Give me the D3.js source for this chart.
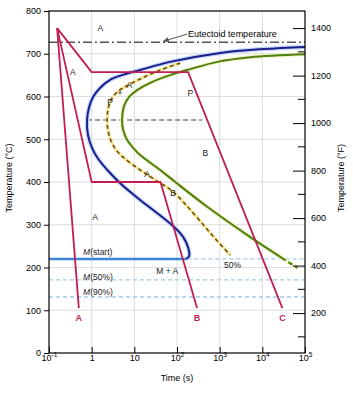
<!DOCTYPE html>
<meta charset="utf-8">
<script src="https://cdn.jsdelivr.net/npm/d3@7"></script>
<style>
body { margin: 0; background: #fff; }
text { font-family: "Liberation Sans", Arial, sans-serif; }
.tick text { font-size: 9px; }
.lbl { font-size: 8.5px; fill: #222; }
.path-lbl { font-size: 9px; fill: #c21e56; font-weight: bold; }
</style>
<div id="chart"></div>
<script>
// time in seconds, temperature in deg C
const startCurve = [[1e5,716],[10500,711],[1030,702],[69,681],[13.7,662],[5.17,650],[2.7,639],[1.57,620],
  [1.08,599],[0.87,575],[0.78,545],[0.82,510],[1.02,480],[1.34,458],[2.7,421],[5.17,393],[13.7,358],
  [81,297],[140,271],[183,246],[193,227],[164,220]];
const finishCurve = [[1e5,699],[5220,692],[880,681],[204,664],[69,650],[23.5,632],[11.6,615],[7.55,599],
  [5.77,578],[5.17,545],[5.46,522],[6.78,498],[9.4,480],[13.7,463],[40.4,428],[91,400],[512,342],
  [5220,271],[66400,199]];
const halfCurve = [[119,678],[40.4,662],[13.7,641],[5.46,620],[3.74,608],[2.85,592],[2.43,571],[2.3,545],
  [2.43,519],[2.85,496],[3.74,475],[5.46,458],[13.7,428],[34.3,402],[81,377],[880,262],[1775,229]];
const pathA = [[0.155,760],[0.5,105]];
const pathB = [[0.155,760],[1.0,400],[41,400],[295,105]];
const pathC = [[0.155,760],[1.0,657],[182,657],[29500,105]];
const eutectoidT = 727;
const bainiteLine = [[0.78,545],[390,545]];
const msStart = 220, ms50 = 171, ms90 = 131, msEndTime = 175;
const xTicks = [0.1,1,10,100,1000,10000,100000];
const xTickLabels = [["10","-1"],["1",""],["10",""],["10","2"],["10","3"],["10","4"],["10","5"]];
const yTicksC = d3.range(0,801,100);
const yTicksF = [200,400,600,800,1000,1200,1400];
const yMinorF = [100,300,500,700,900,1100,1300];
const regionLabels = [[1.6,760,"A"],[0.36,657,"A"],[1.2,318,"A"],[205,608,"P"],[460,468,"B"],
  [20,419,"A"],[81,374,"B"],[2.7,588,"P"],[4.6,607,"+"],[7.6,626,"A"],[59,192,"M + A"],[2000,206,"50%"]];
const pathLabels = [[0.5,82,"A"],[295,82,"B"],[29500,82,"C"]];
const msLabels = [[0.63,236,"(start)"],[0.63,178,"(50%)"],[0.63,143,"(90%)"]];

const W = 353, H = 393;
const x = d3.scaleLog().domain([0.1,1e5]).range([49,305]);
const y = d3.scaleLinear().domain([0,800]).range([353,11]);
const yF = d3.scaleLinear().domain([32,32+800*1.8]).range([353,11]);

const svg = d3.select("#chart").append("svg").attr("width",W).attr("height",H);

svg.append("defs").call(d => {
  d.append("clipPath").attr("id","above").append("rect")
    .attr("x",0).attr("y",0).attr("width",W).attr("height",y(msStart));
  d.append("clipPath").attr("id","below").append("rect")
    .attr("x",0).attr("y",y(msStart)).attr("width",W).attr("height",H);
  d.append("marker").attr("id","arr").attr("viewBox","0 0 10 10").attr("refX",9).attr("refY",5)
    .attr("markerWidth",6).attr("markerHeight",6).attr("orient","auto")
    .append("path").attr("d","M0,1L10,5L0,9z").attr("fill","#555");
});

// grid
const grid = svg.append("g").attr("stroke","#d4d4d4").attr("stroke-width",0.8);
grid.selectAll(".gx").data(xTicks.slice(1,-1)).join("line")
  .attr("x1",d=>x(d)).attr("x2",d=>x(d)).attr("y1",y(0)).attr("y2",y(800));
grid.selectAll(".gy").data(yTicksC.slice(1,-1)).join("line")
  .attr("x1",x(0.1)).attr("x2",x(1e5)).attr("y1",d=>y(d)).attr("y2",d=>y(d));

const line = d3.line().x(d=>x(d[0])).y(d=>y(d[1]));
const smooth = d3.line().x(d=>x(d[0])).y(d=>y(d[1])).curve(d3.curveCatmullRom.alpha(0.5));

// martensite lines
svg.append("line").attr("x1",x(msEndTime)).attr("x2",x(1e5)).attr("y1",y(msStart)).attr("y2",y(msStart))
  .attr("stroke","#9fcbea").attr("stroke-width",1.3).attr("stroke-dasharray","4,3");
[ms50, ms90].forEach(t => {
  svg.append("line").attr("x1",x(0.1)).attr("x2",x(1e5)).attr("y1",y(t)).attr("y2",y(t))
    .attr("stroke","#9fcbea").attr("stroke-width",1.3).attr("stroke-dasharray","4,3");
});
svg.append("line").attr("x1",x(0.1)).attr("x2",x(msEndTime)).attr("y1",y(msStart)).attr("y2",y(msStart))
  .attr("stroke","#3b86d8").attr("stroke-width",2.6);

// eutectoid
svg.append("line").attr("x1",x(0.1)).attr("x2",x(1e5)).attr("y1",y(eutectoidT)).attr("y2",y(eutectoidT))
  .attr("stroke","#555").attr("stroke-width",1.5).attr("stroke-dasharray","9,3,2,3");

// dashed 545 line
svg.append("path").attr("d",line(bainiteLine)).attr("fill","none")
  .attr("stroke","#444").attr("stroke-width",1.2).attr("stroke-dasharray","5,3");

// transformation curves
svg.append("path").attr("d",smooth(startCurve)).attr("fill","none").attr("stroke","#c4daf4").attr("stroke-width",4.5);
svg.append("path").attr("d",smooth(startCurve)).attr("fill","none").attr("stroke","#1c1c8f").attr("stroke-width",2);

svg.append("path").attr("d",smooth(finishCurve)).attr("fill","none").attr("stroke","#f0f3c4").attr("stroke-width",4);
svg.append("path").attr("d",smooth(finishCurve)).attr("fill","none").attr("stroke","#4f7f0e").attr("stroke-width",2)
  .attr("clip-path","url(#above)");
svg.append("path").attr("d",smooth(finishCurve)).attr("fill","none").attr("stroke","#4f7f0e").attr("stroke-width",2)
  .attr("stroke-dasharray","5,3").attr("clip-path","url(#below)");

svg.append("path").attr("d",smooth(halfCurve)).attr("fill","none").attr("stroke","#f5e9a0").attr("stroke-width",3.2);
svg.append("path").attr("d",smooth(halfCurve)).attr("fill","none").attr("stroke","#7a5210").attr("stroke-width",1.7)
  .attr("stroke-dasharray","4,3");

// cooling paths
[pathA, pathB, pathC].forEach(p => {
  svg.append("path").attr("d",line(p)).attr("fill","none").attr("stroke","#c21e56")
    .attr("stroke-width",1.8).attr("stroke-linejoin","round");
});

// frame and axes
svg.append("rect").attr("x",x(0.1)).attr("y",y(800)).attr("width",x(1e5)-x(0.1)).attr("height",y(0)-y(800))
  .attr("fill","none").attr("stroke","#000").attr("stroke-width",1.2);

const gx = svg.append("g").attr("transform",`translate(0,${y(0)})`)
  .call(d3.axisBottom(x).tickValues(xTicks).tickSize(0).tickPadding(5).tickFormat(""));
gx.select(".domain").remove();
gx.selectAll(".tick").append("line").attr("y1",0).attr("y2",-6).attr("stroke","#000");
gx.selectAll(".tick text").data(xTickLabels).text(null)
  .attr("fill","#000").attr("dy","0.3em")
  .each(function(d){
    const t = d3.select(this);
    t.append("tspan").text(d[0]);
    if (d[1]) t.append("tspan").attr("font-size","6.5px").attr("dy","-0.5em").text(d[1]);
  });

const gy = svg.append("g").attr("transform",`translate(${x(0.1)},0)`)
  .call(d3.axisLeft(y).tickValues(yTicksC).tickSize(5).tickPadding(3));
gy.select(".domain").remove();
gy.selectAll("text").attr("fill","#000");

const gf = svg.append("g").attr("transform",`translate(${x(1e5)},0)`)
  .call(d3.axisRight(yF).tickValues(yTicksF).tickSize(0).tickPadding(6).tickFormat(d3.format("d")));
gf.select(".domain").remove();
gf.selectAll(".tick").append("line").attr("x1",-12).attr("x2",0).attr("stroke","#000");
gf.selectAll("text").attr("fill","#000");
gf.selectAll(".minor").data(yMinorF).join("line")
  .attr("x1",-7).attr("x2",0).attr("y1",d=>yF(d)).attr("y2",d=>yF(d)).attr("stroke","#000");

// axis titles
svg.append("text").attr("x",x(100)).attr("y",381).attr("text-anchor","middle").attr("font-size","9px").text("Time (s)");
svg.append("text").attr("transform","translate(12,178) rotate(-90)").attr("text-anchor","middle")
  .attr("font-size","9px").text("Temperature (°C)");
svg.append("text").attr("transform","translate(344,178) rotate(-90)").attr("text-anchor","middle")
  .attr("font-size","9px").text("Temperature (°F)");

// eutectoid label
svg.append("text").attr("x",x(182)).attr("y",y(746)).attr("dy","0.35em").attr("font-size","9px")
  .text("Eutectoid temperature");
svg.append("line").attr("x1",x(175)).attr("y1",y(746)).attr("x2",x(48)).attr("y2",y(eutectoidT)-1)
  .attr("stroke","#555").attr("stroke-width",1).attr("marker-end","url(#arr)");

// region labels
svg.selectAll(".rl").data(regionLabels).join("text").attr("class","lbl")
  .attr("x",d=>x(d[0])).attr("y",d=>y(d[1])).attr("dy","0.35em").attr("text-anchor","middle").text(d=>d[2]);

svg.selectAll(".pl").data(pathLabels).join("text").attr("class","path-lbl")
  .attr("x",d=>x(d[0])).attr("y",d=>y(d[1])).attr("dy","0.35em").attr("text-anchor","middle").text(d=>d[2]);

const ml = svg.selectAll(".ml").data(msLabels).join("text").attr("class","lbl")
  .attr("x",d=>x(d[0])).attr("y",d=>y(d[1])).attr("dy","0.35em");
ml.append("tspan").attr("font-style","italic").text("M");
ml.append("tspan").text(d=>d[2]);
</script>
